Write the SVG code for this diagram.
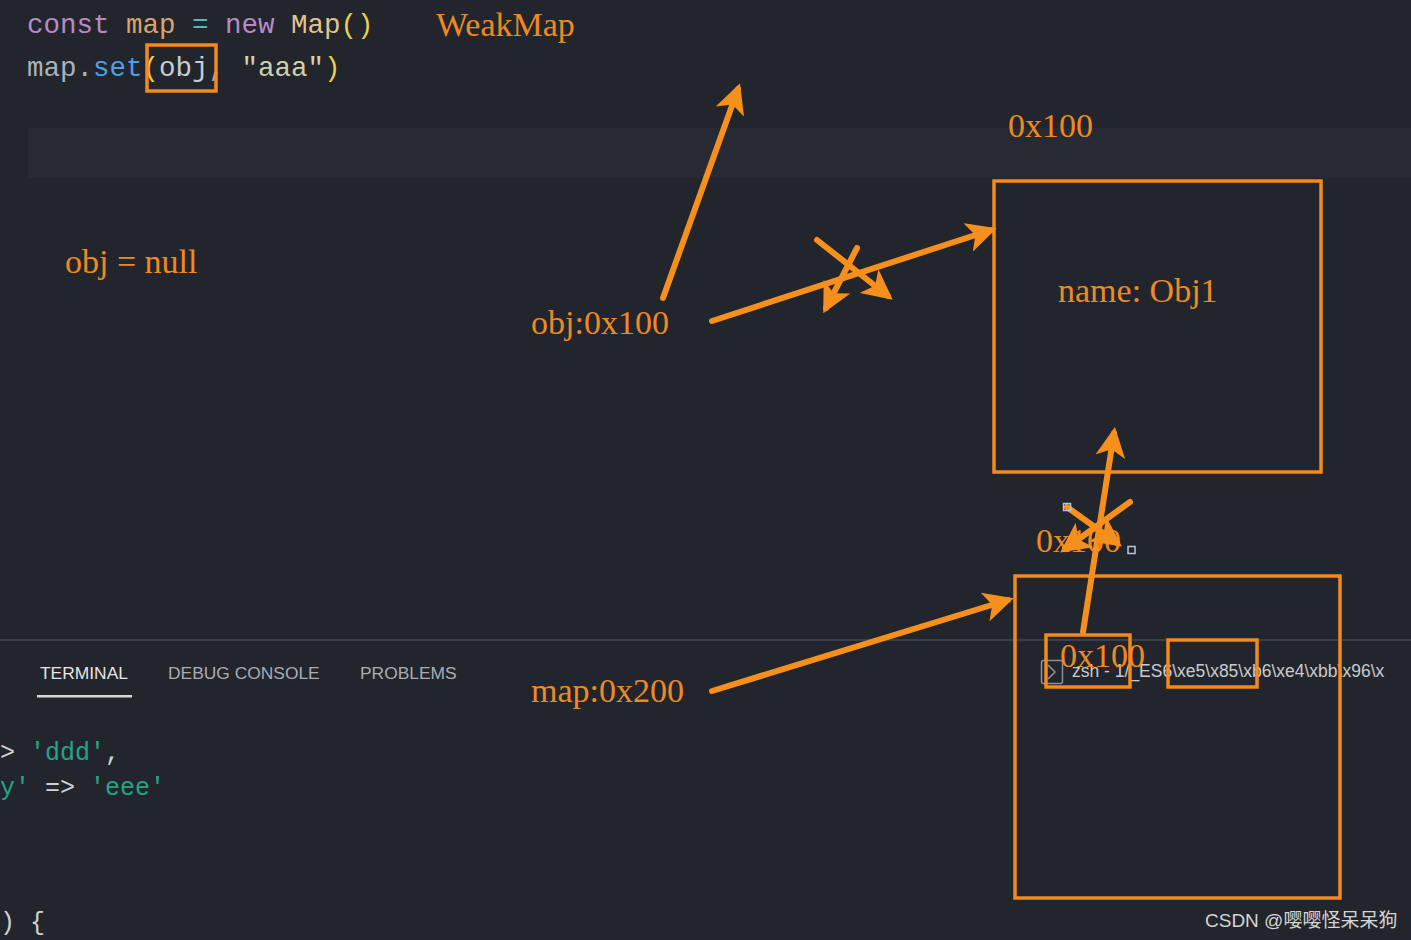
<svg xmlns="http://www.w3.org/2000/svg" width="1411" height="940" viewBox="0 0 1411 940">
<defs>
<style>
.code{font-family:"Liberation Mono","DejaVu Sans Mono",monospace;font-size:27.5px}
.term{font-family:"Liberation Mono","DejaVu Sans Mono",monospace;font-size:25px}
.note{font-family:"Liberation Serif","DejaVu Serif",serif;font-size:34px;fill:#ef8a22}
.tab{font-family:"Liberation Sans","DejaVu Sans",sans-serif;font-size:17.4px;fill:#a9acb2}
.box{fill:none;stroke:#f28a1c;stroke-width:3.5}
.arr{fill:none;stroke:#f6901c;stroke-width:6;stroke-linecap:round;marker-end:url(#ah)}
.handle{fill:none;stroke:#b9c6d6;stroke-width:1.5}
</style>
<marker id="ah" viewBox="0 0 10 10" refX="8" refY="5" markerWidth="5" markerHeight="5" orient="auto" markerUnits="strokeWidth">
<path d="M0,0 L10,5 L0,10 L2.5,5 z" fill="#f6901c"/>
</marker>
</defs>
<rect width="1411" height="940" fill="#22252c"/>
<rect x="28" y="128" width="1383" height="50" fill="#272a32"/>
<line x1="0" y1="640" x2="1411" y2="640" stroke="#3a3e46" stroke-width="2"/>

<g id="code">
<text class="code" x="27" y="33"><tspan fill="#b68bc6">const</tspan><tspan fill="#d9a46c"> map</tspan><tspan fill="#5db5b9"> =</tspan><tspan fill="#b68bc6"> new</tspan><tspan fill="#e2c48c"> Map</tspan><tspan fill="#e9d24e">()</tspan></text>
<text class="code" x="27" y="76"><tspan fill="#aab1bd">map.</tspan><tspan fill="#4f9fe6">set</tspan><tspan fill="#e9d24e">(</tspan><tspan fill="#c8ccd2">obj</tspan><tspan fill="#aab1bd">, </tspan><tspan fill="#cdd2ad">"aaa"</tspan><tspan fill="#e9d24e">)</tspan></text>
<rect class="box" x="147" y="45" width="69" height="46" stroke-width="3"/>
</g>

<g id="panel">
<text class="tab" x="40" y="679" style="fill:#e4e4e4">TERMINAL</text>
<rect x="37" y="695" width="95" height="2.5" fill="#d8d8d8"/>
<text class="tab" x="168" y="679">DEBUG CONSOLE</text>
<text class="tab" x="360" y="679">PROBLEMS</text>
<rect x="1041.5" y="660.5" width="21" height="23" rx="2" fill="none" stroke="#8d9096" stroke-width="1.5"/>
<path d="M1048,665 L1055,672 L1048,679" fill="none" stroke="#8d9096" stroke-width="1.5"/>
<text x="1072" y="677" font-family="'Liberation Sans','DejaVu Sans',sans-serif" font-size="17.5" fill="#c9cbcf">zsh - 1/_ES6\xe5\x85\xb6\xe4\xbb\x96\x</text>
<text class="term" x="0" y="760"><tspan fill="#cfd2d6">&gt; </tspan><tspan fill="#22a585">'ddd'</tspan><tspan fill="#cfd2d6">,</tspan></text>
<text class="term" x="0" y="795"><tspan fill="#22a585">y'</tspan><tspan fill="#cfd2d6"> =&gt; </tspan><tspan fill="#22a585">'eee'</tspan></text>
<text class="term" x="0" y="930" fill="#cfd2d6">) {</text>
</g>

<g id="labels">
<text class="note" x="436" y="36">WeakMap</text>
<text class="note" x="1008" y="137">0x100</text>
<text class="note" x="65" y="273">obj = null</text>
<text class="note" x="531" y="334">obj:0x100</text>
<text class="note" x="531" y="702">map:0x200</text>
<text class="note" x="1036" y="552">0x100</text>
</g>

<g id="obj-box">
<rect class="box" x="994" y="181" width="327" height="291"/>
<text class="note" x="1058" y="302">name: Obj1</text>
</g>

<g id="map-box">
<rect class="box" x="1015" y="576" width="325" height="322"/>
<rect class="box" x="1046" y="635" width="84" height="52" stroke-width="3"/>
<text class="note" x="1060" y="667">0x100</text>
<rect class="box" x="1168" y="640" width="89" height="47" stroke-width="3"/>
</g>

<g id="connectors">
<line class="arr" x1="663" y1="298" x2="738" y2="89"/>
<line class="arr" x1="712" y1="321" x2="991" y2="230"/>
<line class="arr" x1="817" y1="240" x2="888" y2="296"/>
<line class="arr" x1="857" y1="248" x2="826" y2="308"/>
<line class="arr" x1="712" y1="691" x2="1008" y2="600"/>
<line class="arr" x1="1083" y1="632" x2="1114" y2="433"/>
<line class="arr" x1="1130" y1="502" x2="1065" y2="549"/>
<line class="arr" x1="1067" y1="507" x2="1117" y2="543"/>
<rect class="handle" x="1063.5" y="503.5" width="7" height="7"/>
<rect class="handle" x="1128" y="546.5" width="7" height="7"/>
</g>

<g id="watermark">
<text x="1205" y="927" font-family="'Liberation Sans','Noto Sans CJK SC',sans-serif" font-size="19" fill="#d4d4d4">CSDN @嘤嘤怪呆呆狗</text>
</g>
</svg>
